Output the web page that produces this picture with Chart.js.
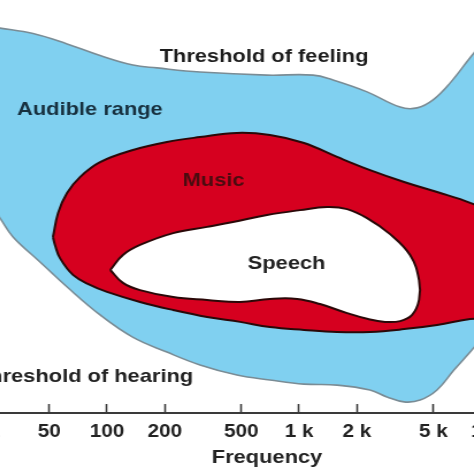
<!DOCTYPE html>
<html><head><meta charset="utf-8">
<script src="https://cdn.jsdelivr.net/npm/chart.js@4.4.1/dist/chart.umd.min.js"></script>
<style>
html,body{margin:0;padding:0;background:#fff;overflow:hidden;width:474px;height:474px;}
#wrap{position:absolute;left:-85px;top:0;width:551px;height:474px;transform:scaleX(1.15);transform-origin:0 0;}
canvas{display:block;}
</style></head><body>
<div id="wrap"><canvas id="c" width="551" height="474"></canvas></div>
<script>
// Axis ticks
const tickValues = [20, 50, 100, 200, 500, 1000, 2000, 5000, 10000];
const tickLabels = ['20 Hz', '50', '100', '200', '500', '1 k', '2 k', '5 k', '10 k'];
const axisTitle = 'Frequency';

// Threshold of feeling (Hz, dB)
const feelingHz = [10, 13, 20, 27.7, 41.2, 61.9, 92, 136.5, 182, 305, 681, 1183, 1503, 2261, 3360, 4121, 4989, 6110, 8150, 10000, 20000];
const feelingDb = [144, 142.6, 140.7, 139.1, 137.0, 133.0, 128.5, 124.8, 123.7, 122.1, 120.9, 120.9, 119.0, 114.4, 108.5, 108.2, 111.3, 117.8, 129.5, 136.4, 145];

// Threshold of hearing (Hz, dB)
const hearingHz = [10, 13, 20, 27.7, 32.4, 44.8, 62, 92, 136, 205, 305, 475, 706, 1060, 1580, 2340, 2870, 3520, 4270, 5230, 6410, 7780, 10000, 15000, 20000];
const hearingDb = [104, 96, 80, 65.5, 58.2, 48.5, 38.8, 28.0, 19.4, 13.6, 8.6, 4.7, 2.8, 1.2, 0.8, -1.1, -3.8, -5.7, -5.0, -1.1, 6.7, 13.6, 23, 34, 41];

// Music area outline (Hz, dB)
const musicHz = [52.3, 55.6, 61.9, 72.3, 92.0, 136.5, 205, 305, 475, 706, 1062, 1578, 2343, 3525, 5233, 7778, 11140, 14160, 11140, 7778, 5233, 3525, 2343, 1578, 1062, 706, 493, 332, 221, 148.5, 100, 81.5, 66.5, 56.9, 53.6, 52.3];
const musicDb = [58.2, 67.5, 75.2, 81.4, 87.2, 91.9, 95.0, 96.9, 98.5, 97.7, 94.6, 89.2, 84.1, 79.5, 75.6, 71.4, 65.5, 47.3, 27.6, 26.4, 24.1, 22.5, 21.4, 21.4, 22.2, 23.3, 25.3, 27.2, 29.9, 33.0, 36.9, 39.6, 43.5, 50.0, 55.0, 58.2];

// Speech area outline (Hz, dB)
const speechHz = [104, 121, 148.5, 221, 332, 453, 681, 1012, 1400, 1779, 2261, 2979, 3787, 4217, 4217, 3880, 3360, 2805, 2287, 1779, 1286, 977, 706, 493, 332, 221, 148.5, 121, 104];
const speechDb = [45.4, 51.2, 55.1, 59.7, 62.1, 64.0, 66.7, 68.6, 69.8, 69.0, 65.5, 59.3, 51.2, 41.5, 33.8, 28.0, 25.6, 25.3, 26.4, 28.7, 32.2, 34.2, 34.2, 33.0, 33.8, 34.9, 37.6, 40.4, 45.4];

// Text labels
const labelTexts = ['Threshold of feeling', 'Audible range', 'Music', 'Speech', 'Threshold of hearing'];
const labelHz = [657, 34, 359, 861, 281];
const labelDb = [126.0, 105.4, 77.9, 45.8, 2.0];
const labelAligns = ['center', 'left', 'center', 'center', 'right'];
const labelColors = ['#1c1c1c', '#17303f', '#4a0c10', '#222222', '#222222'];
const titleHz = 681;

const zip = (xs, ys) => xs.map((v, i) => ({x: v, y: ys[i]}));
const FONT = '"Liberation Sans", Arial, Helvetica, sans-serif';

const textPlugin = {
  id: 'texts',
  afterDatasetsDraw(chart) {
    const {ctx, scales: {x, y}} = chart;
    ctx.save();
    ctx.font = 'bold 19px ' + FONT;
    ctx.textBaseline = 'alphabetic';
    for (let i = 0; i < labelTexts.length; i++) {
      ctx.fillStyle = labelColors[i];
      ctx.textAlign = labelAligns[i];
      ctx.fillText(labelTexts[i], x.getPixelForValue(labelHz[i]), y.getPixelForValue(labelDb[i]));
    }
    ctx.restore();
  },
  afterDraw(chart) {
    const {ctx, scales: {x}} = chart;
    ctx.save();
    ctx.font = 'bold 19px ' + FONT;
    ctx.fillStyle = '#222222';
    ctx.textAlign = 'center';
    ctx.textBaseline = 'alphabetic';
    ctx.fillText(axisTitle, x.getPixelForValue(titleHz), chart.chartArea.bottom + 50);
    ctx.restore();
  }
};

new Chart(document.getElementById('c'), {
  type: 'scatter',
  data: {
    datasets: [
      {label: 'Speech', data: zip(speechHz, speechDb), showLine: true, tension: 0.4, pointRadius: 0,
       borderColor: '#2a0808', borderWidth: 2, backgroundColor: '#ffffff', fill: 'shape'},
      {label: 'Music', data: zip(musicHz, musicDb), showLine: true, tension: 0.4, pointRadius: 0,
       borderColor: '#2a0808', borderWidth: 2, backgroundColor: '#d6001f', fill: 'shape'},
      {label: 'Threshold of feeling', data: zip(feelingHz, feelingDb), showLine: true, tension: 0.4, pointRadius: 0,
       borderColor: '#7a8c95', borderWidth: 1.6, backgroundColor: '#80d0f0', fill: '+1'},
      {label: 'Threshold of hearing', data: zip(hearingHz, hearingDb), showLine: true, tension: 0.4, pointRadius: 0,
       borderColor: '#7a8c95', borderWidth: 1.6, fill: false}
    ]
  },
  options: {
    responsive: false,
    animation: false,
    devicePixelRatio: 1,
    layout: {padding: 0},
    plugins: {legend: {display: false}, tooltip: {enabled: false}, filler: {drawTime: 'beforeDatasetsDraw'}},
    scales: {
      x: {
        type: 'logarithmic', min: 10, max: 19953, position: 'bottom',
        afterBuildTicks: s => { s.ticks = tickValues.map(v => ({value: v})); },
        afterFit: s => { s.height = 61; s.paddingLeft = 0; s.paddingRight = 0; },
        grid: {drawOnChartArea: false, drawTicks: true, tickLength: -9, tickWidth: 1.6, tickColor: '#3a3a3a'},
        border: {display: true, color: '#3a3a3a', width: 2},
        ticks: {autoSkip: false, maxRotation: 0, minRotation: 0, padding: 17, color: '#222222',
          font: {family: FONT, size: 18, weight: 'bold', lineHeight: 1.2},
          callback: (v, i) => tickLabels[i]}
      },
      y: {type: 'linear', min: -10, max: 150, display: false}
    }
  },
  plugins: [textPlugin]
});
</script>
</body></html>
